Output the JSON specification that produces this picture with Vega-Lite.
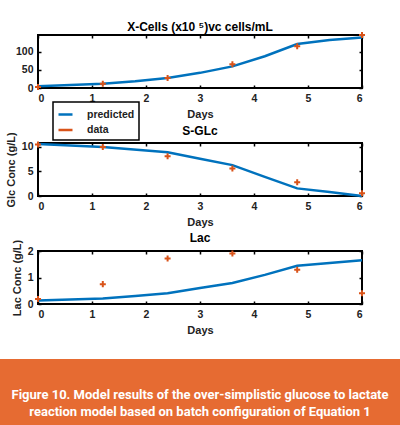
{
  "$schema": "https://vega.github.io/schema/vega-lite/v6.json",
  "padding": {"top": 19, "left": 0, "right": 0, "bottom": 0},
  "background": "white",
  "bounds": "flush",
  "center": true,
  "spacing": 55,
  "datasets": {
    "cells": [
      {"series": "predicted", "day": 0, "value": 5},
      {"series": "predicted", "day": 0.6, "value": 8},
      {"series": "predicted", "day": 1.2, "value": 12},
      {"series": "predicted", "day": 1.8, "value": 19},
      {"series": "predicted", "day": 2.4, "value": 28},
      {"series": "predicted", "day": 3.0, "value": 42},
      {"series": "predicted", "day": 3.6, "value": 60},
      {"series": "predicted", "day": 4.2, "value": 88},
      {"series": "predicted", "day": 4.8, "value": 122},
      {"series": "predicted", "day": 5.4, "value": 133},
      {"series": "predicted", "day": 6, "value": 140},
      {"series": "data", "day": 0, "value": 3},
      {"series": "data", "day": 1.2, "value": 12},
      {"series": "data", "day": 2.4, "value": 28},
      {"series": "data", "day": 3.6, "value": 66},
      {"series": "data", "day": 4.8, "value": 116},
      {"series": "data", "day": 6, "value": 147}
    ],
    "glc": [
      {"series": "predicted", "day": 0, "value": 10.6},
      {"series": "predicted", "day": 1.2, "value": 10.0},
      {"series": "predicted", "day": 2.4, "value": 8.9},
      {"series": "predicted", "day": 3.0, "value": 7.6},
      {"series": "predicted", "day": 3.6, "value": 6.3},
      {"series": "predicted", "day": 4.2, "value": 3.9},
      {"series": "predicted", "day": 4.8, "value": 1.55},
      {"series": "predicted", "day": 5.4, "value": 0.8},
      {"series": "predicted", "day": 6, "value": 0},
      {"series": "data", "day": 0, "value": 10.5},
      {"series": "data", "day": 1.2, "value": 10.0},
      {"series": "data", "day": 2.4, "value": 8.1},
      {"series": "data", "day": 3.6, "value": 5.6},
      {"series": "data", "day": 4.8, "value": 2.8},
      {"series": "data", "day": 6, "value": 0.55}
    ],
    "lac": [
      {"series": "predicted", "day": 0, "value": 0.13},
      {"series": "predicted", "day": 0.6, "value": 0.17},
      {"series": "predicted", "day": 1.2, "value": 0.21},
      {"series": "predicted", "day": 1.8, "value": 0.3},
      {"series": "predicted", "day": 2.4, "value": 0.41},
      {"series": "predicted", "day": 3.0, "value": 0.6},
      {"series": "predicted", "day": 3.6, "value": 0.79},
      {"series": "predicted", "day": 4.2, "value": 1.1},
      {"series": "predicted", "day": 4.8, "value": 1.44},
      {"series": "predicted", "day": 5.4, "value": 1.55},
      {"series": "predicted", "day": 6, "value": 1.65},
      {"series": "data", "day": 0, "value": 0.19},
      {"series": "data", "day": 1.2, "value": 0.75},
      {"series": "data", "day": 2.4, "value": 1.72},
      {"series": "data", "day": 3.6, "value": 1.91},
      {"series": "data", "day": 4.8, "value": 1.29},
      {"series": "data", "day": 6, "value": 0.41}
    ],
    "caption": [
      {"text": "Figure 10. Model results of the over-simplistic glucose to lactate\nreaction model based on batch configuration of Equation 1"}
    ]
  },
  "vconcat": [
    {
      "title": {"text": "X-Cells (x10 ⁵)vc cells/mL"},
      "width": 324,
      "height": 53,
      "data": {"name": "cells"},
      "resolve": {"axis": {"x": "independent", "y": "independent"}},
      "layer": [
        {
          "transform": [{"filter": "datum.series === 'predicted'"}],
          "mark": {"type": "line", "strokeWidth": 2.5},
          "encoding": {
            "x": {"field": "day", "type": "quantitative", "scale": {"domain": [0, 6], "nice": false}, "axis": {"orient": "bottom", "values": [0, 1, 2, 3, 4, 5, 6], "title": "Days"}},
            "y": {"field": "value", "type": "quantitative", "scale": {"domain": [0, 147], "nice": false}, "axis": {"orient": "left", "values": [0, 50, 100], "title": null}},
            "color": {"field": "series", "type": "nominal", "scale": {"domain": ["predicted", "data"], "range": ["#0072BD", "#D95319"]}}
          }
        },
        {
          "transform": [{"filter": "datum.series === 'data'"}],
          "mark": {"type": "point", "filled": false, "strokeWidth": 2, "size": 196, "opacity": 1, "shape": "M-0.43,0H0.43M0,-0.43V0.43"},
          "encoding": {
            "x": {"field": "day", "type": "quantitative", "axis": {"orient": "top", "values": [0, 1, 2, 3, 4, 5, 6], "labels": false, "title": null, "minExtent": 0, "maxExtent": 0}},
            "y": {"field": "value", "type": "quantitative", "axis": {"orient": "right", "values": [0, 50, 100], "labels": false, "title": null, "minExtent": 0, "maxExtent": 0}},
            "color": {"field": "series", "type": "nominal"}
          }
        }
      ]
    },
    {
      "title": {"text": "S-GLc"},
      "width": 324,
      "height": 53,
      "data": {"name": "glc"},
      "resolve": {"axis": {"x": "independent", "y": "independent"}},
      "layer": [
        {
          "transform": [{"filter": "datum.series === 'predicted'"}],
          "mark": {"type": "line", "strokeWidth": 2.5},
          "encoding": {
            "x": {"field": "day", "type": "quantitative", "scale": {"domain": [0, 6], "nice": false}, "axis": {"orient": "bottom", "values": [0, 1, 2, 3, 4, 5, 6], "title": "Days"}},
            "y": {"field": "value", "type": "quantitative", "scale": {"domain": [0, 10.8], "nice": false}, "axis": {"orient": "left", "values": [0, 5, 10], "title": "Glc Conc (g/L)"}},
            "color": {"field": "series", "type": "nominal"}
          }
        },
        {
          "transform": [{"filter": "datum.series === 'data'"}],
          "mark": {"type": "point", "filled": false, "strokeWidth": 2, "size": 196, "opacity": 1, "shape": "M-0.43,0H0.43M0,-0.43V0.43"},
          "encoding": {
            "x": {"field": "day", "type": "quantitative", "axis": {"orient": "top", "values": [0, 1, 2, 3, 4, 5, 6], "labels": false, "title": null, "minExtent": 0, "maxExtent": 0}},
            "y": {"field": "value", "type": "quantitative", "axis": {"orient": "right", "values": [0, 5, 10], "labels": false, "title": null, "minExtent": 0, "maxExtent": 0}},
            "color": {"field": "series", "type": "nominal"}
          }
        }
      ]
    },
    {
      "title": {"text": "Lac"},
      "width": 324,
      "height": 53,
      "data": {"name": "lac"},
      "resolve": {"axis": {"x": "independent", "y": "independent"}},
      "layer": [
        {
          "transform": [{"filter": "datum.series === 'predicted'"}],
          "mark": {"type": "line", "strokeWidth": 2.5},
          "encoding": {
            "x": {"field": "day", "type": "quantitative", "scale": {"domain": [0, 6], "nice": false}, "axis": {"orient": "bottom", "values": [0, 1, 2, 3, 4, 5, 6], "title": "Days"}},
            "y": {"field": "value", "type": "quantitative", "scale": {"domain": [0, 2], "nice": false}, "axis": {"orient": "left", "values": [0, 1, 2], "title": "Lac Conc (g/L)"}},
            "color": {"field": "series", "type": "nominal"}
          }
        },
        {
          "transform": [{"filter": "datum.series === 'data'"}],
          "mark": {"type": "point", "filled": false, "strokeWidth": 2, "size": 196, "opacity": 1, "shape": "M-0.43,0H0.43M0,-0.43V0.43"},
          "encoding": {
            "x": {"field": "day", "type": "quantitative", "axis": {"orient": "top", "values": [0, 1, 2, 3, 4, 5, 6], "labels": false, "title": null, "minExtent": 0, "maxExtent": 0}},
            "y": {"field": "value", "type": "quantitative", "axis": {"orient": "right", "values": [0, 1, 2], "labels": false, "title": null, "minExtent": 0, "maxExtent": 0}},
            "color": {"field": "series", "type": "nominal"}
          }
        }
      ]
    },
    {
      "width": 400,
      "height": 66,
      "data": {"name": "caption"},
      "view": {"fill": "#E66B32", "stroke": null},
      "mark": {"type": "text", "color": "white", "font": "Liberation Sans Narrow, Roboto", "fontWeight": "bold", "fontSize": 13, "lineHeight": 16.5, "lineBreak": "\n", "align": "center", "baseline": "middle", "dy": 3},
      "encoding": {"text": {"field": "text", "type": "nominal"}}
    }
  ],
  "config": {
    "font": "Liberation Sans",
    "view": {"stroke": "black", "strokeWidth": 2},
    "title": {"fontSize": 12, "fontWeight": "bold", "color": "black", "offset": -6, "frame": "group", "font": "Liberation Sans"},
    "axis": {
      "domain": false,
      "grid": false,
      "tickSize": -3,
      "tickColor": "black",
      "tickWidth": 1.5,
      "format": "d",
      "labelFont": "Liberation Sans",
      "labelFontWeight": "bold",
      "labelFontSize": 10.5,
      "labelColor": "#222222",
      "labelPadding": 8,
      "titleFont": "Liberation Sans",
      "titleFontWeight": "bold",
      "titleFontSize": 11,
      "titleColor": "#222222",
      "titlePadding": 5
    },
    "legend": {
      "orient": "none",
      "legendX": 53,
      "legendY": 67,
      "title": null,
      "strokeColor": "black",
      "strokeWidth": 1.5,
      "fillColor": "white",
      "padding": 4,
      "symbolStrokeWidth": 2.5,
      "symbolSize": 196,
      "labelFont": "Liberation Sans",
      "labelFontWeight": "bold",
      "labelFontSize": 10.5,
      "labelColor": "#222222",
      "labelOffset": 13,
      "rowPadding": 1.5,
      "encode": {
        "symbols": {
          "update": {
            "shape": {"signal": "datum.value === 'predicted' ? 'M-1,0H3' : 'M0.57,0H1.43M1,-0.43V0.43'"},
            "size": {"value": 196},
            "fill": {"value": "transparent"},
            "stroke": {"scale": "color", "field": "value"},
            "strokeWidth": {"value": 2.5},
            "opacity": {"value": 1}
          }
        }
      }
    }
  }
}
